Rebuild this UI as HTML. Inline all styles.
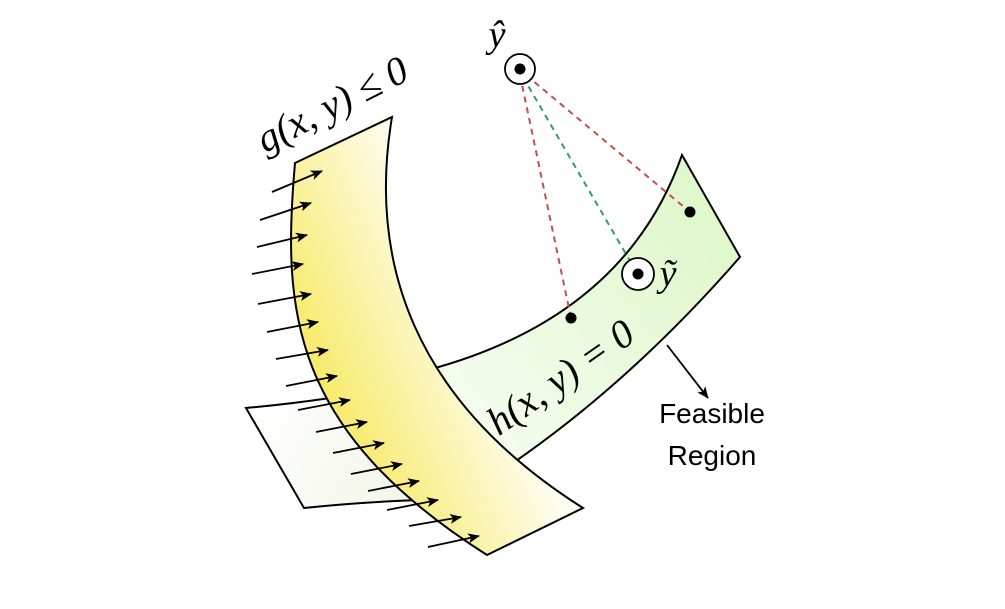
<!DOCTYPE html>
<html><head><meta charset="utf-8"><style>
html,body{margin:0;padding:0;background:#fff;}
svg{display:block}
.m{font-family:"Liberation Serif",serif;font-style:italic;}
</style></head><body>
<svg width="1005" height="609" viewBox="0 0 1005 609" xmlns="http://www.w3.org/2000/svg">
<defs>
<linearGradient id="yg" x1="300" y1="360" x2="480" y2="280" gradientUnits="userSpaceOnUse">
<stop offset="0" stop-color="#f7e964"/><stop offset="1" stop-color="#ffffff"/></linearGradient>
<linearGradient id="gg" x1="450" y1="420" x2="740" y2="200" gradientUnits="userSpaceOnUse">
<stop offset="0" stop-color="#f6fdf0"/><stop offset="1" stop-color="#ddf7c8"/></linearGradient>
<linearGradient id="wg" x1="250" y1="420" x2="400" y2="500" gradientUnits="userSpaceOnUse">
<stop offset="0" stop-color="#ffffff"/><stop offset="1" stop-color="#f3f6e8"/></linearGradient>
<marker id="ah" markerWidth="12" markerHeight="10" refX="11" refY="5" orient="auto" markerUnits="userSpaceOnUse">
<path d="M0,0 L12,5 L0,10 L3,5 Z" fill="#000"/></marker>
</defs>
<!-- white paper -->
<path d="M246,408 Q290,404 330,398 L420,500 Q360,502 304,508 Z" fill="url(#wg)" stroke="#000" stroke-width="2"/>
<!-- green band -->
<path d="M400,380 L428,370 Q625,317 682,155 L740,257 Q633,380 513,463 L470,480 Z" fill="url(#gg)" stroke="#000" stroke-width="2"/>
<!-- yellow band -->
<path d="M295,163 L392,117 C368,260 412,400 583,508 L487,555 C290,430 282,310 295,163 Z" fill="url(#yg)" stroke="#000" stroke-width="2"/>
<!-- arrows -->
<g stroke="#000" stroke-width="1.8" marker-end="url(#ah)">
<line x1="272" y1="192" x2="322" y2="171"/>
<line x1="260" y1="220" x2="311" y2="203"/>
<line x1="257" y1="247" x2="307" y2="235"/>
<line x1="252" y1="274" x2="303" y2="264"/>
<line x1="258" y1="304" x2="311" y2="294"/>
<line x1="267" y1="332" x2="318" y2="322"/>
<line x1="276" y1="359" x2="328" y2="350"/>
<line x1="286" y1="386" x2="337" y2="376"/>
<line x1="298" y1="410" x2="350" y2="400"/>
<line x1="316" y1="432" x2="367" y2="422"/>
<line x1="333" y1="453" x2="384" y2="443"/>
<line x1="351" y1="474" x2="402" y2="464"/>
<line x1="368" y1="491" x2="419" y2="481"/>
<line x1="387" y1="510" x2="438" y2="500"/>
<line x1="409" y1="526" x2="461" y2="517"/>
<line x1="428" y1="547" x2="479" y2="536"/>
</g>
<!-- dashed lines -->
<g stroke-width="2" stroke-dasharray="6,5" fill="none">
<line x1="520" y1="75" x2="571" y2="318" stroke="#c0504d"/>
<line x1="526" y1="75" x2="690" y2="212" stroke="#c0504d"/>
<line x1="523" y1="77" x2="637" y2="273" stroke="#2e9e6b"/>
</g>
<circle cx="571" cy="318" r="5.5" fill="#000"/>
<circle cx="690" cy="212" r="5.5" fill="#000"/>
<circle cx="520" cy="69" r="15" fill="#fff" stroke="#000" stroke-width="1.8"/>
<circle cx="520" cy="69" r="5.5" fill="#000"/>
<circle cx="638" cy="274" r="16" fill="#fff" stroke="#000" stroke-width="1.8"/>
<circle cx="638" cy="274" r="5.5" fill="#000"/>
<!-- labels -->
<text class="m" x="497" y="47" font-size="38" text-anchor="middle">ŷ</text>
<text class="m" x="668" y="286" font-size="38" text-anchor="middle">ỹ</text>
<text class="m" x="0" y="0" font-size="40" text-anchor="middle" transform="translate(338,116) rotate(-27)">g(x, y) ≤ 0</text>
<text class="m" x="0" y="0" font-size="40" text-anchor="middle" transform="translate(568,388) rotate(-35)">h(x, y) = 0</text>
<line x1="667" y1="345" x2="708" y2="398" stroke="#000" stroke-width="1.8" marker-end="url(#ah)"/>
<text x="712" y="423" font-family="Liberation Sans, sans-serif" font-size="28" text-anchor="middle">Feasible</text>
<text x="712" y="465" font-family="Liberation Sans, sans-serif" font-size="28" text-anchor="middle">Region</text>
</svg>
</body></html>
